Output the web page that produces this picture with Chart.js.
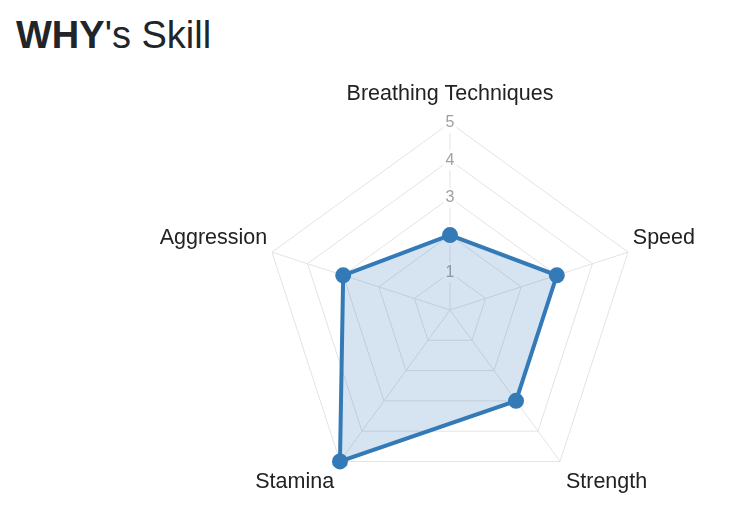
<!DOCTYPE html>
<html>
<head>
<meta charset="utf-8">
<script src="https://cdn.jsdelivr.net/npm/chart.js@4/dist/chart.umd.min.js"></script>
<style>
  html, body { margin: 0; padding: 0; background: #fff; overflow: hidden; width: 755px; height: 509px; }
  #title { position: absolute; left: 16px; top: 14px; font-family: "Liberation Sans", Arial, sans-serif; font-size: 38px; color: #212529; }
  #title b { font-weight: bold; }
  #wrap { position: absolute; left: 137px; top: 66px; width: 610px; height: 458px; }
</style>
</head>
<body>
<div id="title"><b>WHY</b>'s Skill</div>
<div id="wrap"><canvas id="c"></canvas></div>
<script>
const categories = ["Breathing Techniques", "Speed", "Strength", "Stamina", "Aggression"];
const skillValues = [2, 3, 3, 5, 3];
const tickValues = [0, 1, 2, 3, 4, 5];

new Chart(document.getElementById('c'), {
  type: 'radar',
  data: {
    labels: categories,
    datasets: [{
      label: "WHY",
      data: skillValues,
      borderColor: '#337ab7',
      backgroundColor: 'rgba(51,122,183,0.2)',
      borderWidth: 4,
      pointBackgroundColor: '#337ab7',
      pointBorderColor: '#337ab7',
      pointRadius: 6,
      fill: true
    }]
  },
  options: {
    responsive: true,
    maintainAspectRatio: false,
    animation: false,
    plugins: { legend: { display: false }, tooltip: { enabled: false } },
    scales: {
      r: {
        min: tickValues[0],
        max: tickValues[tickValues.length - 1],
        afterBuildTicks: (s) => { s.ticks = tickValues.map(v => ({ value: v })); },
        ticks: {
          stepSize: 1,
          color: '#a0a0a0',
          font: { family: '"Liberation Sans", Arial, sans-serif', size: 16 },
          backdropColor: '#fff',
          backdropPadding: 2
        },
        grid: { color: '#e3e3e3', lineWidth: 1 },
        angleLines: { color: '#e3e3e3', lineWidth: 1 },
        pointLabels: {
          color: '#222',
          font: { family: '"Liberation Sans", Arial, sans-serif', size: 21.5 },
          padding: (ctx) => (ctx.index === 0 ? 6 : (ctx.index === 1 || ctx.index === 4) ? -5 : 0)
        }
      }
    }
  }
});
</script>
</body>
</html>
